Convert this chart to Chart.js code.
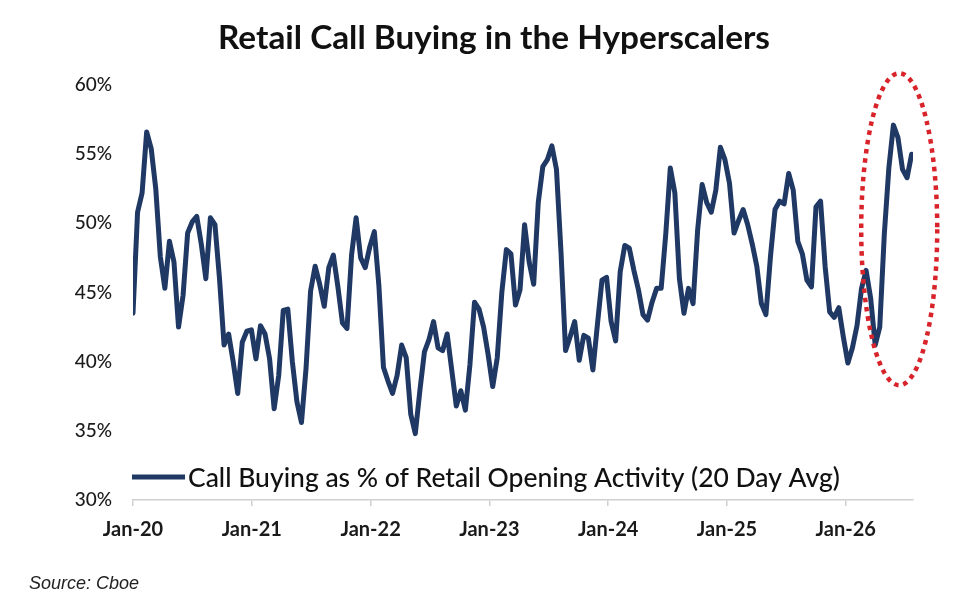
<!DOCTYPE html>
<html>
<head>
<meta charset="utf-8">
<title>Retail Call Buying in the Hyperscalers</title>
<script src="https://cdn.jsdelivr.net/npm/chart.js@4.4.1/dist/chart.umd.min.js"></script>
<style>
  html, body { margin: 0; padding: 0; background: #fff; }
  #wrap { width: 974px; height: 603px; position: relative; }
</style>
</head>
<body>
<div id="wrap"><canvas id="chart"></canvas></div>
<script>
const titleText = "Retail Call Buying in the Hyperscalers";
const seriesLabel = "Call Buying as % of Retail Opening Activity (20 Day Avg)";
const sourceText = "Source: Cboe";

// fortnightly readings, first one at the start of jan-20
const startYear = 2020;
const stepDays = 14;
const callBuyingPct = [
  43.5, 50.8, 52.2, 56.6, 55.4, 52.5, 47.6, 45.3, 48.7, 47.2, 42.5, 44.8, 49.3,
  50.1, 50.5, 48.5, 46.0, 50.4, 49.9, 46.0, 41.2, 42.0, 40.0, 37.7, 41.4, 42.2,
  42.3, 40.2, 42.6, 42.0, 40.2, 36.6, 39.0, 43.7, 43.8, 40.0, 37.1, 35.6, 39.5,
  45.1, 46.9, 45.6, 44.0, 46.8, 47.7, 45.4, 42.8, 42.4, 47.7, 50.4, 47.5, 46.8,
  48.3, 49.4, 45.5, 39.6, 38.6, 37.7, 39.0, 41.2, 40.3, 36.2, 34.8, 37.9, 40.7,
  41.6, 42.9, 41.0, 40.8, 42.0, 39.4, 36.8, 37.9, 36.5, 39.8, 44.3, 43.8, 42.5,
  40.5, 38.2, 40.3, 45.0, 48.1, 47.8, 44.1, 45.2, 49.9, 47.2, 45.6, 51.5, 54.1,
  54.6, 55.6, 53.9, 47.9, 40.8, 41.8, 42.9, 40.1, 41.9, 41.7, 39.4, 42.7, 45.9,
  46.1, 42.9, 41.5, 46.5, 48.4, 48.2, 46.6, 45.2, 43.4, 43.0, 44.3, 45.3, 45.3,
  49.2, 54.0, 52.2, 46.0, 43.5, 45.3, 44.2, 49.5, 52.8, 51.5, 50.8, 52.4, 55.5,
  54.6, 52.9, 49.3, 50.2, 51.0, 49.9, 48.5, 46.9, 44.2, 43.4, 47.6, 51.0, 51.6,
  51.4, 53.6, 52.4, 48.7, 47.8, 45.9, 45.4, 51.2, 51.6, 46.9, 43.6, 43.2, 43.9,
  41.8, 39.9, 41.0, 42.6, 45.3, 46.6, 44.6, 41.2, 42.5, 49.2, 54.0, 57.1, 56.2,
  53.9, 53.3, 55.0
];

const xTickYears = [2020, 2021, 2022, 2023, 2024, 2025, 2026];
const xTickLabels = ["Jan-20", "Jan-21", "Jan-22", "Jan-23", "Jan-24", "Jan-25", "Jan-26"];
const yTicks = [30, 35, 40, 45, 50, 55, 60];
const xEnd = 2026.566;

// dotted ring round the latest surge, in data units
const ringDates = [2026.13, 2026.77];
const ringPct = [38.3, 60.85];

const navy = "#1f3864";

function fitFont(ctx, text, weight, family, size, width) {
  ctx.font = weight + " " + size + "px " + family;
  const scaled = size * width / ctx.measureText(text).width;
  ctx.font = weight + " " + scaled.toFixed(2) + "px " + family;
}

const decorations = {
  id: "decorations",
  afterDraw(chart) {
    const ctx = chart.ctx;
    const area = chart.chartArea;
    const xs = chart.scales.x;
    const ys = chart.scales.y;
    ctx.save();

    // title
    fitFont(ctx, titleText, "bold", "Lato", 30, 552);
    ctx.fillStyle = "#111";
    ctx.textAlign = "center";
    ctx.textBaseline = "alphabetic";
    ctx.fillText(titleText, 494, 49);

    // legend inside the plot
    ctx.strokeStyle = navy;
    ctx.lineWidth = 5;
    ctx.lineCap = "butt";
    ctx.beginPath();
    ctx.moveTo(area.left - 1, 477);
    ctx.lineTo(185, 477);
    ctx.stroke();
    fitFont(ctx, seriesLabel, "500", "Lato", 24, 652);
    ctx.fillStyle = "#111";
    ctx.textAlign = "left";
    ctx.textBaseline = "middle";
    ctx.fillText(seriesLabel, 188, 478);

    // red dotted ring
    const x0 = xs.getPixelForValue(ringDates[0]);
    const x1 = xs.getPixelForValue(ringDates[1]);
    const y0 = ys.getPixelForValue(ringPct[1]);
    const y1 = ys.getPixelForValue(ringPct[0]);
    ctx.strokeStyle = "#d9232a";
    ctx.lineWidth = 4.5;
    ctx.setLineDash([4.5, 4.8]);
    ctx.beginPath();
    ctx.ellipse((x0 + x1) / 2, (y0 + y1) / 2, (x1 - x0) / 2, (y1 - y0) / 2, 0, 0, Math.PI * 2);
    ctx.stroke();
    ctx.setLineDash([]);

    // source note
    ctx.font = "italic 18px 'Liberation Sans', Arial, sans-serif";
    ctx.fillStyle = "#222";
    ctx.textAlign = "left";
    ctx.textBaseline = "alphabetic";
    ctx.fillText(sourceText, 29, 589);
    ctx.restore();
  }
};

new Chart(document.getElementById("chart"), {
  type: "line",
  data: {
    datasets: [{
      label: seriesLabel,
      data: callBuyingPct.map((v, i) => ({ x: startYear + i * stepDays / 365.25, y: v })),
      borderColor: navy,
      borderWidth: 5,
      pointRadius: 0,
      tension: 0,
      borderJoinStyle: "round",
      borderCapStyle: "round",
      fill: false
    }]
  },
  options: {
    responsive: true,
    maintainAspectRatio: false,
    animation: false,
    layout: { padding: { left: 0, top: 85, right: 61, bottom: 0 } },
    plugins: {
      legend: { display: false },
      title: { display: false },
      tooltip: { enabled: false }
    },
    scales: {
      x: {
        type: "linear",
        min: startYear,
        max: xEnd,
        afterBuildTicks: axis => {
          axis.ticks = xTickYears.map(v => ({ value: v }));
        },
        afterFit: scale => { scale.height = 103; },
        grid: {
          drawOnChartArea: false,
          drawTicks: true,
          tickLength: 6,
          color: "#d0d0d0",
          lineWidth: 1.5
        },
        border: { display: true, color: "#d0d0d0", width: 1.5 },
        ticks: {
          autoSkip: false,
          maxRotation: 0,
          padding: 12,
          color: "#1a1a1a",
          font: { family: "Lato", size: 20, weight: "bold" },
          callback: value => xTickLabels[xTickYears.indexOf(value)] || ""
        }
      },
      y: {
        min: 30,
        max: 60,
        afterBuildTicks: axis => {
          axis.ticks = yTicks.map(v => ({ value: v }));
        },
        afterFit: scale => { scale.width = 133; },
        grid: { display: false, drawTicks: false },
        border: { display: false },
        ticks: {
          padding: 21,
          color: "#1a1a1a",
          font: { family: "Lato", size: 19, weight: "500" },
          callback: value => value + "%"
        }
      }
    }
  },
  plugins: [decorations]
});
</script>
</body>
</html>
